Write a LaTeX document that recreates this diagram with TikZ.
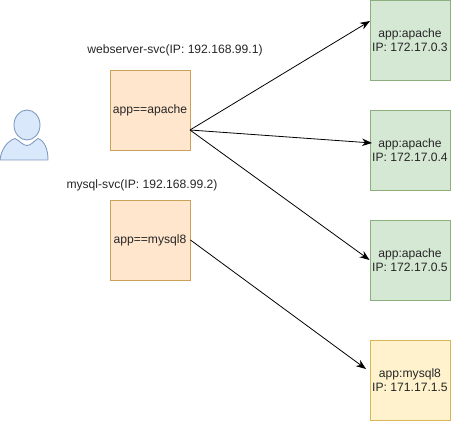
\documentclass[tikz,border=0pt]{standalone}
\usepackage{fontspec}
\setmainfont{Liberation Sans}
\usetikzlibrary{arrows.meta}
\definecolor{svcfill}{HTML}{FFE6CC}
\definecolor{svcline}{HTML}{C9A25A}
\definecolor{podfill}{HTML}{D5E8D4}
\definecolor{podline}{HTML}{8DAF7E}
\definecolor{dbfill}{HTML}{FFF2CC}
\definecolor{dbline}{HTML}{D6B656}
\definecolor{userfill}{HTML}{DAE8FC}
\definecolor{userline}{HTML}{7F9BBF}

\begin{document}
\begin{tikzpicture}[
  x=1cm,
  y=1cm,
  box/.style={draw, line width=0.5pt, align=center, font=\fontsize{6.9}{8}\selectfont,
    text=black!85, minimum width=1.6cm, minimum height=1.6cm, inner sep=0pt},
  svc box/.style={box, draw=svcline, fill=svcfill},
  pod box/.style={box, draw=podline, fill=podfill},
  db box/.style={box, draw=dbline, fill=dbfill},
  svc title/.style={font=\fontsize{6.9}{8}\selectfont, text=black!85},
  person/.style={draw=userline, line width=0.5pt, fill=userfill},
  link/.style={draw=black, line width=0.45pt,
    -{Stealth[length=2mm,width=1.5mm]}}
]
  \path[use as bounding box] (0,0) rectangle (9.02,8.42);

  % User icon.
  \draw[person] (0,5.22) .. controls (0.02,5.42) and (0.14,5.60) .. (0.30,5.65)
    .. controls (0.40,5.60) and (0.46,5.51) .. (0.54,5.51)
    .. controls (0.62,5.51) and (0.68,5.60) .. (0.76,5.65)
    .. controls (0.90,5.60) and (0.96,5.42) .. (0.96,5.22) -- cycle;
  \draw[person] (0.54,5.92) ellipse (0.26 and 0.30);

  % Services.
  \node[svc title] (webtitle) at (3.50,7.42) {webserver-svc(IP: 192.168.99.1)};
  \node[svc box] (apache) at (3.00,6.22) {app==apache};
  \node[svc title] (mysqltitle) at (2.84,4.72) {mysql-svc(IP: 192.168.99.2)};
  \node[svc box] (mysql) at (3.00,3.62) {app==mysql8};

  % Pods.
  \node[pod box] (pod1) at (8.20,7.62) {app:apache\\IP: 172.17.0.3};
  \node[pod box] (pod2) at (8.20,5.42) {app:apache\\IP: 172.17.0.4};
  \node[pod box] (pod3) at (8.20,3.22) {app:apache\\IP: 172.17.0.5};
  \node[db box] (db) at (8.20,0.82) {app:mysql8\\IP: 171.17.1.5};

  % Arrows stop where the selector lines end.
  \coordinate (fan) at (3.80,5.82);
  \coordinate (pod1in) at (7.40,8.00);
  \coordinate (pod2in) at (7.44,5.56);
  \coordinate (dbin) at (7.32,1.04);
  \draw[link] (fan) -- (pod1in);
  \draw[link] (fan) -- (pod2in);
  \draw[link] (fan) -- (pod3.west);
  \draw[link] (mysql.east) -- (dbin);
\end{tikzpicture}
\end{document}
